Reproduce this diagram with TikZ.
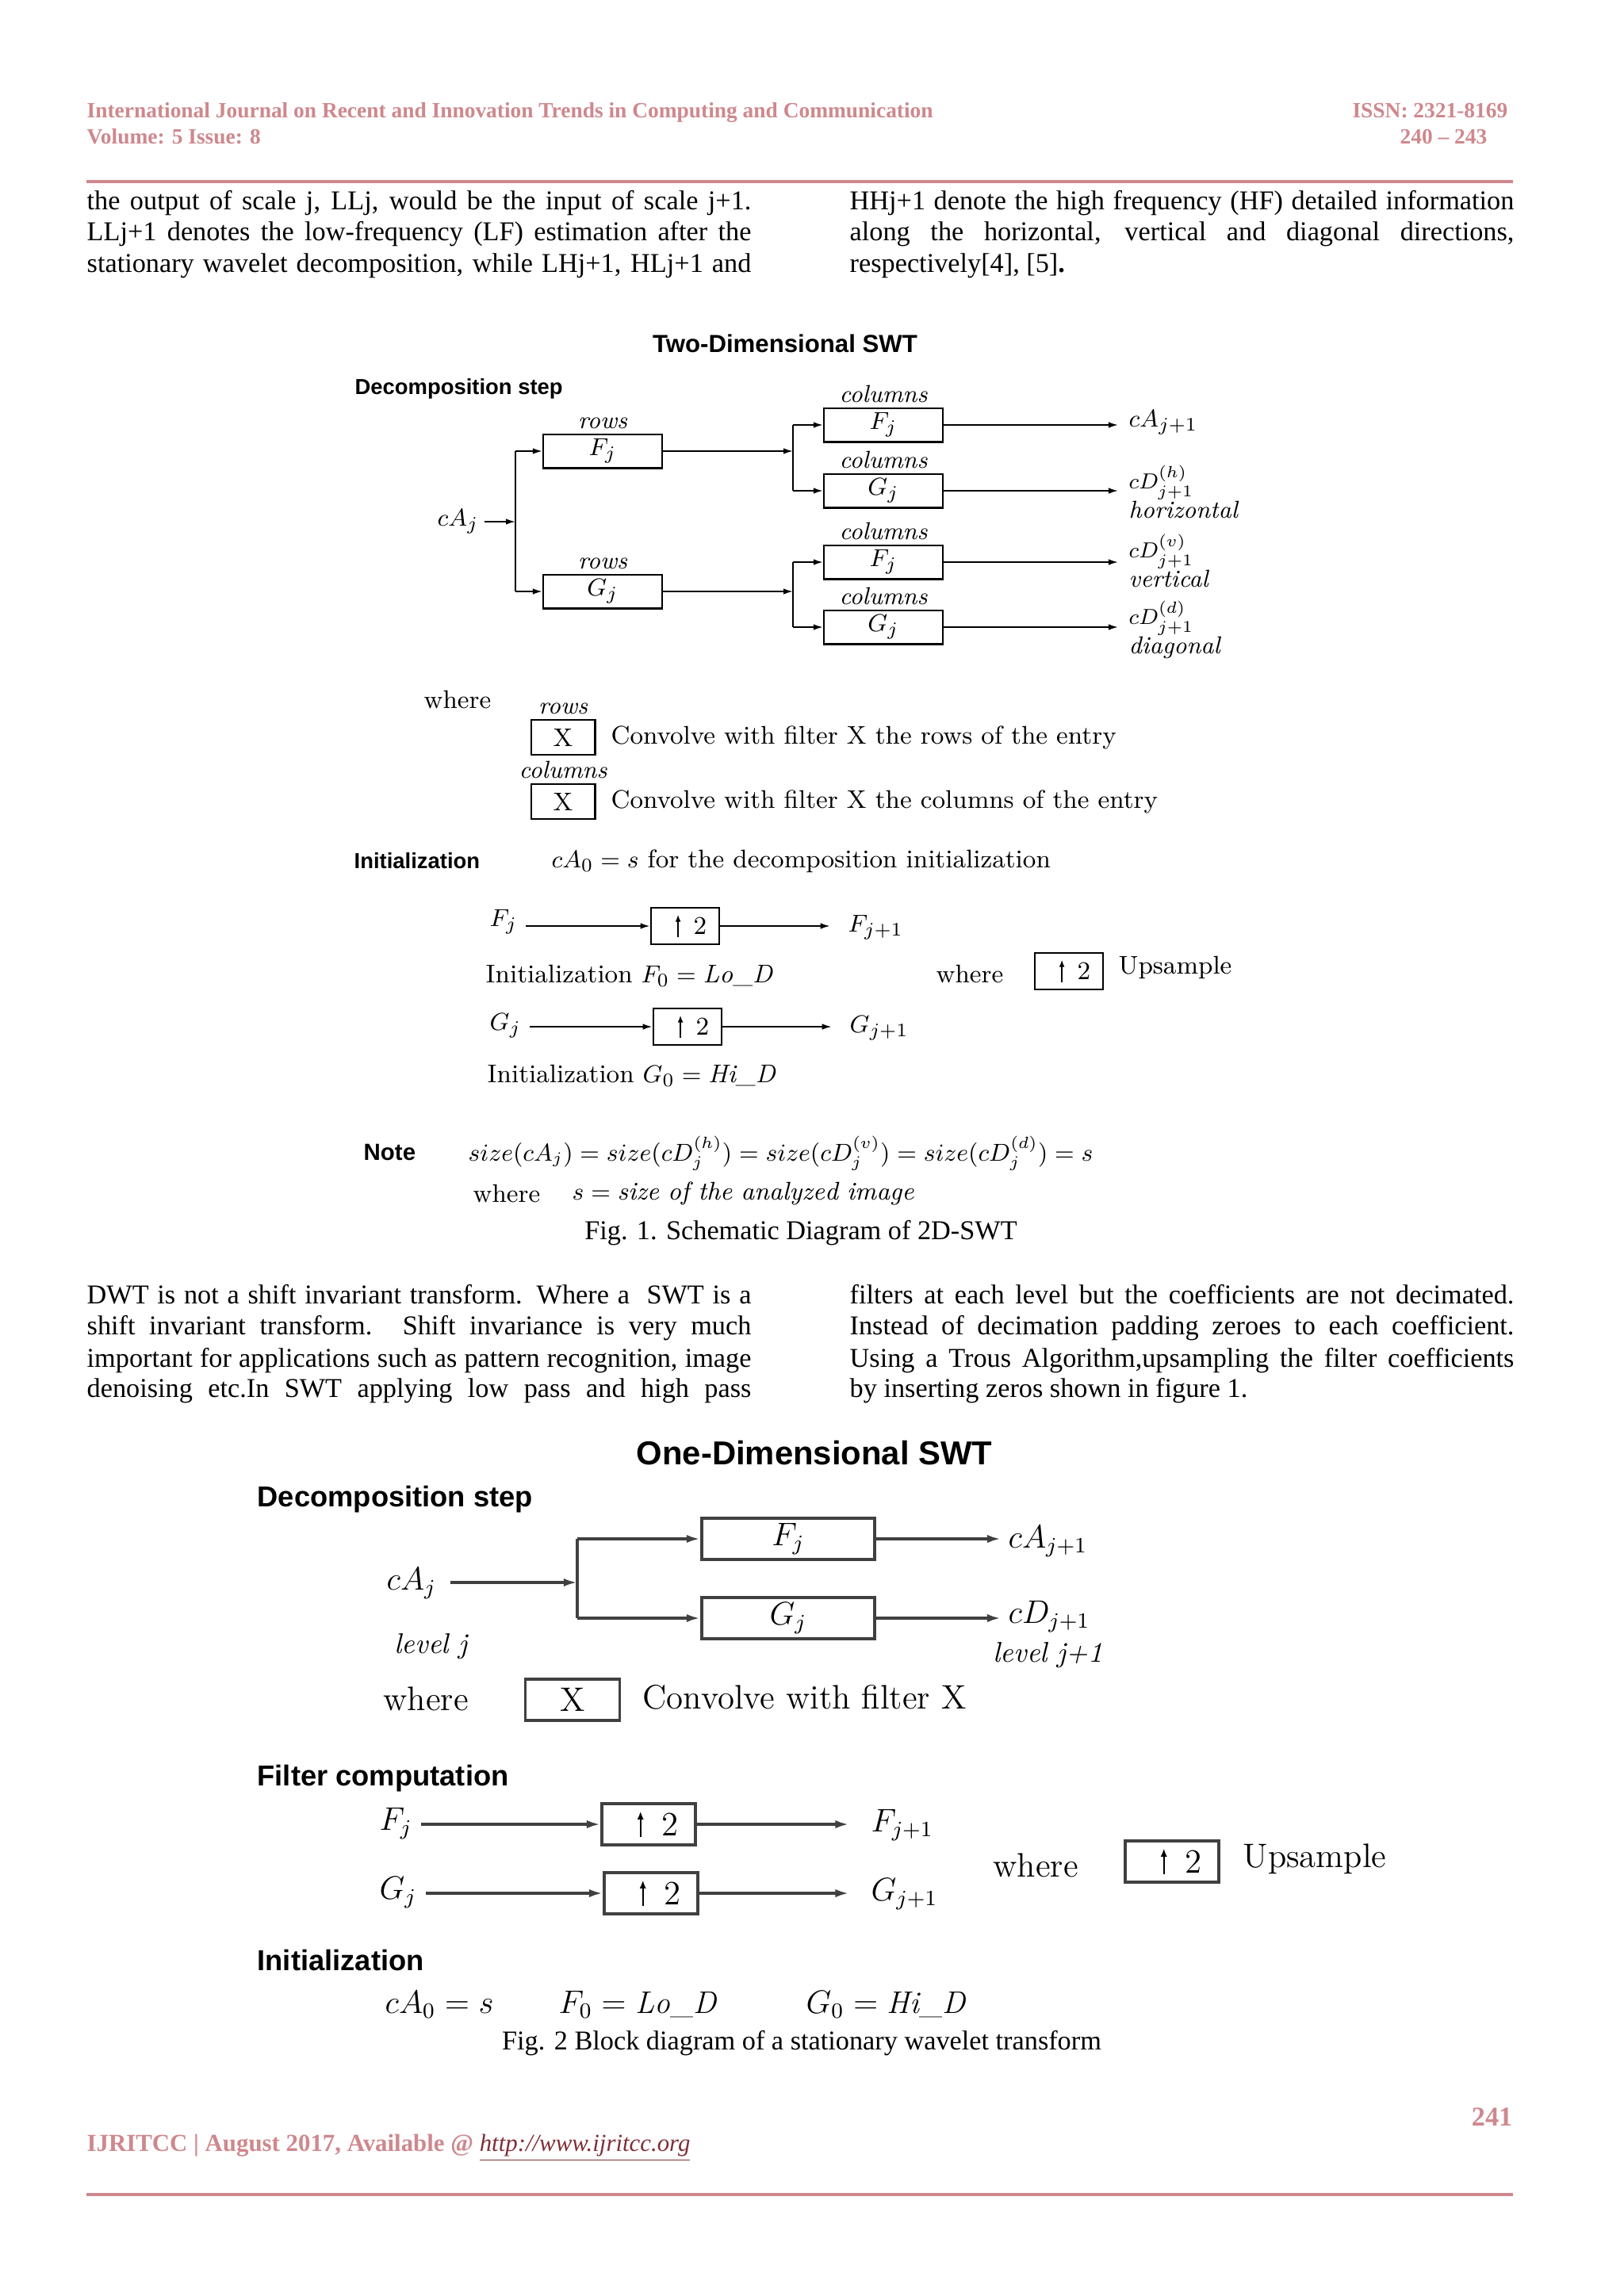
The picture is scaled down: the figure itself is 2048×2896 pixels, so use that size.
\documentclass[tikz,border=0pt]{standalone}
\usepackage{fontspec}
\usetikzlibrary{arrows.meta,positioning}

\newfontfamily\tnr{Liberation Serif}
\newfontfamily\hlv{Liberation Sans}

\definecolor{hdrpink}{RGB}{206,136,141}
\definecolor{urlred}{RGB}{128,48,56}
\definecolor{figgray}{RGB}{64,64,64}

% one justified line of a column
\newcommand{\jline}[1]{\makebox[8.59cm][s]{#1}}
% output label without depth
\newcommand{\outsym}[1]{\raisebox{0pt}[\height][0pt]{\fontsize{8.5}{9}\selectfont$#1$}}

\tikzset{
  % page
  body/.style={anchor=base west, inner sep=0pt, font=\tnr\fontsize{10}{12}\selectfont},
  hdr/.style={inner sep=0pt, text=hdrpink, font=\tnr\bfseries\fontsize{8}{9.6}\selectfont},
  ftr/.style={inner sep=0pt, text=hdrpink, font=\tnr\bfseries\fontsize{9}{11}\selectfont},
  figcap/.style={inner sep=0pt, font=\tnr\fontsize{10}{12}\selectfont},
  pagerule/.style={hdrpink, line width=1.1pt},
  % Fig. 1
  title1/.style={inner sep=0pt, font=\hlv\bfseries\fontsize{9.1}{11}\selectfont},
  hd1/.style={inner sep=0pt, anchor=west, font=\hlv\bfseries\fontsize{8}{9.6}\selectfont},
  txt1/.style={inner sep=0pt, anchor=west, font=\fontsize{9.4}{11}\selectfont},
  it1/.style={inner sep=1pt, font=\itshape\fontsize{9}{10}\selectfont},
  outlab/.style={inner sep=0pt, anchor=north west, align=left, font=\itshape\fontsize{9}{10.8}\selectfont},
  box1/.style={draw, line width=0.6pt, minimum width=1.54cm, minimum height=0.44cm, inner sep=0pt, font=\fontsize{9.4}{11}\selectfont},
  xbox1/.style={box1, minimum width=0.83cm, minimum height=0.45cm},
  upbox1/.style={box1, minimum width=0.89cm, minimum height=0.47cm, label={[xshift=5.5pt,font=\fontsize{9.4}{11}\selectfont]center:2}},
  arr1/.style={-{Latex[length=3.5pt,width=2.2pt]}, line width=0.55pt},
  ln1/.style={line width=0.55pt},
  uparr1/.style={-{Latex[length=2.6pt,width=2pt]}, line width=0.5pt},
  % Fig. 2
  title2/.style={inner sep=0pt, font=\hlv\bfseries\fontsize{12.2}{14}\selectfont},
  hd2/.style={inner sep=0pt, anchor=west, font=\hlv\bfseries\fontsize{10.6}{12.5}\selectfont},
  txt2/.style={inner sep=0pt, anchor=west, font=\fontsize{12.5}{15}\selectfont},
  mth2/.style={inner sep=0pt, anchor=west, font=\fontsize{11.5}{14}\selectfont},
  it2/.style={inner sep=0pt, anchor=west, font=\itshape\fontsize{10.5}{12.5}\selectfont},
  box2/.style={draw=figgray, line width=1.1pt, minimum width=2.24cm, minimum height=0.53cm, inner sep=0pt, font=\fontsize{11.5}{14}\selectfont},
  xbox2/.style={box2, minimum width=1.22cm, minimum height=0.54cm, font=\fontsize{12.5}{15}\selectfont},
  upbox2/.style={box2, minimum width=1.21cm, minimum height=0.54cm, label={[xshift=7.8pt,font=\fontsize{12.5}{15}\selectfont]center:2}},
  arr2/.style={figgray, -{Latex[length=5pt,width=3pt]}, line width=1.1pt},
  ln2/.style={figgray, line width=1.1pt},
  uparr2/.style={-{Latex[length=3pt,width=2.4pt]}, line width=0.7pt},
}

\begin{document}
\begin{tikzpicture}[x=0.010254cm, y=-0.010254cm]
\fill[white] (0,0) rectangle (2048,2896);
\useasboundingbox (0,0) rectangle (2048,2896);

% header
\node[hdr, anchor=base west] (jrn) at (109,148) {International Journal on Recent and Innovation Trends in Computing and Communication};
\node[hdr, anchor=base west] (vol) at (109,181) {Volume: 5 Issue: 8};
\node[hdr, anchor=base east] (issn) at (1902,148) {ISSN: 2321-8169};
\node[hdr, anchor=base east] (pgs) at (1876,181) {240 \textendash{} 243};
\draw[pagerule] (109,229) -- (1908,229);

% text above Fig. 1
\node[body] (a1) at (109,264) {\jline{the output of scale j, LLj, would be the input of scale j+1.}};
\node[body] (a2) at (109,303) {\jline{LLj+1 denotes the low-frequency (LF) estimation after the}};
\node[body] (a3) at (109,343) {\jline{stationary wavelet decomposition, while LHj+1, HLj+1 and}};
\node[body] (b1) at (1071,264) {\jline{HHj+1 denote the high frequency (HF) detailed information}};
\node[body] (b2) at (1071,303) {\jline{along the horizontal, vertical and diagonal directions,}};
\node[body] (b3) at (1071,343) {respectively[4], [5]\textbf{.}};

% Fig. 1 : two-dimensional SWT
\node[title1] (t2d) at (990,433) {Two-Dimensional SWT};
\node[hd1] (dec1) at (447,490) {Decomposition step};

\node[box1] (rF) at (760,569) {$F_j$};
\node[box1] (rG) at (760,746) {$G_j$};
\node[it1, above=0.5pt of rF] (rFl) {rows};
\node[it1, above=0.5pt of rG] (rGl) {rows};

\node[box1] (cF1) at (1114,536) {$F_j$};
\node[box1] (cG1) at (1114,619) {$G_j$};
\node[box1] (cF2) at (1114,709) {$F_j$};
\node[box1] (cG2) at (1114,791) {$G_j$};
\node[it1, above=0.5pt of cF1] (cF1l) {columns};
\node[it1, above=0.5pt of cG1] (cG1l) {columns};
\node[it1, above=0.5pt of cF2] (cF2l) {columns};
\node[it1, above=0.5pt of cG2] (cG2l) {columns};

\node[txt1] (cAj) at (551,658) {$cA_j$};
\coordinate (bus1) at (650,658);
\coordinate (bus2) at (1000,569);
\coordinate (bus3) at (1000,746);

\draw[arr1, shorten <=2pt] (bus1 -| cAj.east) -- (bus1);
\draw[ln1] (bus1 |- rF) -- (bus1 |- rG);
\draw[arr1] (bus1 |- rF) -- (rF);
\draw[arr1] (bus1 |- rG) -- (rG);

\draw[arr1] (rF) -- (bus2);
\draw[ln1] (bus2 |- cF1) -- (bus2 |- cG1);
\draw[arr1] (bus2 |- cF1) -- (cF1);
\draw[arr1] (bus2 |- cG1) -- (cG1);

\draw[arr1] (rG) -- (bus3);
\draw[ln1] (bus3 |- cF2) -- (bus3 |- cG2);
\draw[arr1] (bus3 |- cF2) -- (cF2);
\draw[arr1] (bus3 |- cG2) -- (cG2);

\node[txt1] (oA) at (1423,533) {$cA_{j+1}$};
\node[outlab] (oH) at (1423,586) {\outsym{cD^{(h)}_{j+1}}\\horizontal};
\node[outlab] (oV) at (1423,673) {\outsym{cD^{(v)}_{j+1}}\\vertical};
\node[outlab] (oD) at (1423,757) {\outsym{cD^{(d)}_{j+1}}\\diagonal};
\draw[arr1, shorten >=3.8pt] (cF1) -- (cF1 -| oA.west);
\draw[arr1, shorten >=3.8pt] (cG1) -- (cG1 -| oH.west);
\draw[arr1, shorten >=3.8pt] (cF2) -- (cF2 -| oV.west);
\draw[arr1, shorten >=3.8pt] (cG2) -- (cG2 -| oD.west);

% legend
\node[txt1] (wh1) at (534,882) {where};
\node[xbox1] (xr) at (710,930) {X};
\node[it1, above=0.5pt of xr] (xrl) {rows};
\node[txt1] (xrt) at (770,930) {Convolve with filter X the rows of the entry};
\node[xbox1] (xc) at (710,1011) {X};
\node[it1, above=0.5pt of xc] (xcl) {columns};
\node[txt1] (xct) at (770,1011) {Convolve with filter X the columns of the entry};

\node[hd1] (ini1) at (446,1086) {Initialization};
\node[txt1] (ini1t) at (695,1086) {$cA_0 = s$ for the decomposition initialization};

% upsampling of the filters
\node[txt1] (fj1) at (617,1163) {$F_j$};
\node[upbox1] (u1) at (864,1168) {};
\node[txt1] (fo1) at (1069,1170) {$F_{j+1}$};
\draw[arr1, shorten <=3pt] (u1 -| fj1.east) -- (u1);
\draw[arr1, shorten >=6.5pt] (u1) -- (u1 -| fo1.west);
\node[txt1] (i1F) at (612,1231) {Initialization $F_0 = \mathit{Lo\_D}$};

\node[txt1] (wh2) at (1180,1228) {where};
\node[upbox1] (u3) at (1348,1225) {};
\node[txt1] (ups1) at (1410,1220) {Upsample};

\node[txt1] (gj1) at (617,1294) {$G_j$};
\node[upbox1] (u2) at (867,1295) {};
\node[txt1] (go1) at (1071,1297) {$G_{j+1}$};
\draw[arr1, shorten <=3pt] (u2 -| gj1.east) -- (u2);
\draw[arr1, shorten >=6.5pt] (u2) -- (u2 -| go1.west);
\node[txt1] (i1G) at (614,1357) {Initialization $G_0 = \mathit{Hi\_D}$};

\draw[uparr1] ([xshift=-2.6pt,yshift=-4.2pt]u1.center) -- ([xshift=-2.6pt,yshift=4.2pt]u1.center);
\draw[uparr1] ([xshift=-2.6pt,yshift=-4.2pt]u2.center) -- ([xshift=-2.6pt,yshift=4.2pt]u2.center);
\draw[uparr1] ([xshift=-2.6pt,yshift=-4.2pt]u3.center) -- ([xshift=-2.6pt,yshift=4.2pt]u3.center);

% note
\node[hd1, font=\hlv\bfseries\fontsize{8.6}{10}\selectfont] (note) at (458,1453) {Note};
\node[txt1, font=\fontsize{8.8}{10}\selectfont] (nf) at (590,1455) {$size(cA_j) = size(cD_j^{(h)}) = size(cD_j^{(v)}) = size(cD_j^{(d)}) = s$};
\node[txt1] (nw) at (596,1505) {where};
\node[txt1] (ns) at (721,1505) {$s = \mathit{size\ of\ the\ analyzed\ image}$};
\node[figcap] (cap1) at (1010,1555) {Fig. 1. Schematic Diagram of 2D-SWT};

% text between the figures
\node[body] (c1) at (109,1644) {\jline{DWT is not a shift invariant transform. Where a \ SWT is a}};
\node[body] (c2) at (109,1683) {\jline{shift invariant transform. Shift invariance is very much}};
\node[body] (c3) at (109,1724) {\jline{important for applications such as pattern recognition, image}};
\node[body] (c4) at (109,1762) {\jline{denoising etc.In SWT applying low pass and high pass}};
\node[body] (d1) at (1071,1644) {\jline{filters at each level but the coefficients are not decimated.}};
\node[body] (d2) at (1071,1683) {\jline{Instead of decimation padding zeroes to each coefficient.}};
\node[body] (d3) at (1071,1724) {\jline{Using a Trous Algorithm,upsampling the filter coefficients}};
\node[body] (d4) at (1071,1762) {by inserting zeros shown in figure 1.};

% Fig. 2 : one-dimensional SWT
\node[title2] (t1d) at (1027,1833) {One-Dimensional SWT};
\node[hd2] (dec2) at (324,1891) {Decomposition step};

\node[box2] (F2) at (994,1941) {$F_j$};
\node[box2] (G2) at (994,2041) {$G_j$};
\node[mth2] (cA2) at (487,1997) {$cA_j$};
\coordinate (bus4) at (728,1996);
\draw[arr2, shorten <=5pt] (bus4 -| cA2.east) -- (bus4);
\draw[ln2] (bus4 |- F2) -- (bus4 |- G2);
\draw[arr2] (bus4 |- F2) -- (F2);
\draw[arr2] (bus4 |- G2) -- (G2);

\node[mth2] (oA2) at (1271,1944) {$cA_{j+1}$};
\node[mth2] (oD2) at (1271,2039) {$cD_{j+1}$};
\draw[arr2, shorten >=2.6pt] (F2) -- (F2 -| oA2.west);
\draw[arr2, shorten >=2.6pt] (G2) -- (G2 -| oD2.west);
\node[it2] (lvj) at (497,2077) {level j};
\node[it2] (lvj1) at (1252,2088) {level j+1};

\node[txt2] (wh3) at (483,2143) {where};
\node[xbox2] (xb2) at (722,2144) {X};
\node[txt2] (xbt2) at (810,2141) {Convolve with filter X};

\node[hd2] (flt) at (324,2243) {Filter computation};
\node[mth2] (fj2) at (478,2300) {$F_j$};
\node[upbox2] (u4) at (818,2301) {};
\node[mth2] (fo2) at (1098,2302) {$F_{j+1}$};
\draw[arr2, shorten <=3pt] (u4 -| fj2.east) -- (u4);
\draw[arr2, shorten >=8pt] (u4) -- (u4 -| fo2.west);
\node[mth2] (gj2) at (478,2387) {$G_j$};
\node[upbox2] (u5) at (821,2388) {};
\node[mth2] (go2) at (1098,2389) {$G_{j+1}$};
\draw[arr2, shorten <=3pt] (u5 -| gj2.east) -- (u5);
\draw[arr2, shorten >=8pt] (u5) -- (u5 -| go2.west);

\node[txt2] (wh4) at (1252,2353) {where};
\node[upbox2] (u6) at (1478,2348) {};
\node[txt2] (ups2) at (1567,2345) {Upsample};

\draw[uparr2] ([xshift=-3pt,yshift=-4.8pt]u4.center) -- ([xshift=-3pt,yshift=4.8pt]u4.center);
\draw[uparr2] ([xshift=-3pt,yshift=-4.8pt]u5.center) -- ([xshift=-3pt,yshift=4.8pt]u5.center);
\draw[uparr2] ([xshift=-3pt,yshift=-4.8pt]u6.center) -- ([xshift=-3pt,yshift=4.8pt]u6.center);

\node[hd2] (ini2) at (324,2472) {Initialization};
\node[mth2] (i2a) at (485,2528) {$cA_0 = s$};
\node[mth2] (i2b) at (704,2528) {$F_0 = \mathit{Lo\_D}$};
\node[mth2] (i2c) at (1016,2528) {$G_0 = \mathit{Hi\_D}$};
\node[figcap] (cap2) at (1011,2577) {Fig. 2 Block diagram of a stationary wavelet transform};

% footer
\node[ftr, font=\tnr\bfseries\fontsize{10}{12}\selectfont, anchor=east] (pno) at (1908,2670) {241};
\node[ftr, anchor=west] (ftl) at (109,2709) {IJRITCC | August 2017, Available @ {\mdseries\color{urlred}\underline{\textit{http://www.ijritcc.org}}}};
\draw[pagerule] (109,2768) -- (1908,2768);
\end{tikzpicture}
\end{document}
